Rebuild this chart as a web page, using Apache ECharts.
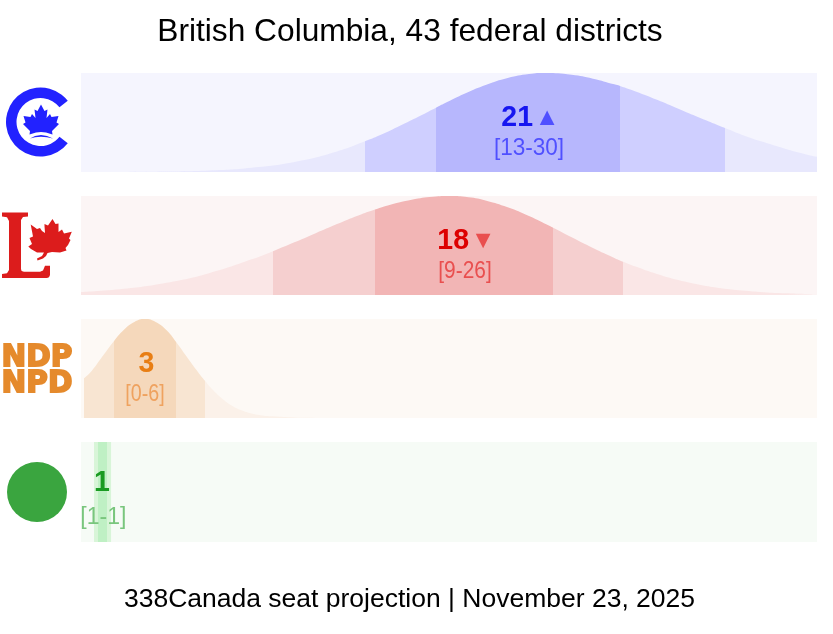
<!DOCTYPE html>
<html>
<head>
<meta charset="utf-8">
<style>html,body{margin:0;padding:0;background:#fff}#chart{width:833px;height:634px}</style>
<script src="https://cdn.jsdelivr.net/npm/echarts@6/dist/echarts.min.js"></script>
</head>
<body>
<div id="chart"></div>
<script>
// Seat projection values
const chartTitle = 'British Columbia, 43 federal districts';
const chartFooter = '338Canada seat projection | November 23, 2025';
const partyNames = ['CPC', 'LPC', 'NDP', 'GPC'];
const centralSeats = [21, 18, 3, 1];
const lowSeats = [13, 9, 0, 1];
const highSeats = [30, 26, 6, 1];
const trendMarks = ['▲', '▼', '', ''];

// Probability curves: seats and relative density (peak = 100)
const cpcSeats = [0, 2, 4, 6, 8, 10, 12, 13.31, 14, 15, 16, 16.64, 17, 18, 19, 20, 21, 21.75, 23, 24, 25, 25.27, 26, 27, 28, 29, 30, 30.19, 31, 32, 33, 34, 34.5];
const cpcDensity = [0, 0.1, 0.5, 1.6, 4.4, 10.2, 20.8, 31, 37, 47.2, 57.9, 65, 68.9, 79.3, 88.2, 95, 99, 100, 98.2, 94.3, 88.6, 86.9, 81.3, 72.9, 63.8, 54.7, 46, 44.4, 37.5, 30.2, 23.5, 17.8, 15.5];
const cpcBands = [0, 13.31, 16.64, 25.27, 30.19, 34.5];

const lpcSeats = [0, 2, 4, 6, 8, 9, 10, 11, 12, 13, 13.78, 14.5, 15.5, 16.5, 17.3, 18, 19, 20, 21, 22, 22.13, 23, 24, 25, 25.41, 26, 27, 28, 29, 30, 31, 32, 33, 34.5];
const lpcDensity = [2.9, 6.2, 12.3, 22, 36, 44.3, 53.2, 62.5, 71.7, 80.4, 86.4, 91.2, 96.2, 99.2, 100, 99.2, 95.3, 88.6, 79.8, 69.4, 68, 58.4, 47.6, 37.5, 33.7, 28.7, 21.2, 15.1, 10.4, 6.9, 4.5, 2.8, 1.7, 0.7];
const lpcBands = [0, 9, 13.78, 22.13, 25.41, 34.5];

const ndpSeats = [0.127, 0.5, 1, 1.55, 2, 2.5, 3, 3.5, 4, 4.45, 5, 5.5, 5.81, 6.2, 6.6, 7, 7.5, 8, 8.5, 9, 10, 11, 12, 34.5];
const ndpDensity = [40, 47.6, 62, 77.8, 88.8, 97, 100, 97, 88.8, 77, 60.6, 46, 37.7, 28, 20, 13.5, 8, 4.5, 2.6, 1.7, 0.5, 0.1, 0, 0];
const ndpBands = [0.127, 1.55, 4.45, 5.81, 34.5];

const gpcSeats = [0.61, 0.8, 1.22, 1.41];
const gpcDensity = [100, 100, 100, 100];
const gpcBands = [0.61, 0.8, 1.22, 1.41];

// Party styling
const panelColors = ['#f5f5fe', '#fcf5f5', '#fdf9f5', '#f6fbf6'];
const bandColors = [
  ['#e8e8fd', '#cfcfff', '#b7b7fd', '#cfcfff', '#e8e8fd'],
  ['#fae6e6', '#f5cfcf', '#f2b5b5', '#f5cfcf', '#fae6e6'],
  ['#f8e5d2', '#f5d8bb', '#f8e5d2', '#fbf1e9'],
  ['#d8f5d8', '#bff0c4', '#d8f5d8']
];
const valueColors = ['#1616f0', '#dd0000', '#e87e14', '#1a9b22'];
const rangeColors = ['#5050ff', '#e94f4f', '#efa25f', '#79c67d'];
const rangeScale = [0.94, 0.87, 0.82, 1];
const valueNudge = [4, 4, 1.5, -0.5];
const panelTops = [73, 196, 319, 442];
const seatMax = 34.5;

const curveSets = [
  [cpcSeats, cpcDensity, cpcBands],
  [lpcSeats, lpcDensity, lpcBands],
  [ndpSeats, ndpDensity, ndpBands],
  [gpcSeats, gpcDensity, gpcBands]
];

const grids = [], xAxes = [], yAxes = [], series = [], visualMaps = [];
const FONT = '"Liberation Sans", Arial, sans-serif';

curveSets.forEach(([seats, density, edges], p) => {
  grids.push({ left: 81, top: panelTops[p], width: 736, height: p === 3 ? 100 : 99, show: true, backgroundColor: panelColors[p], borderWidth: 0 });
  xAxes.push({ type: 'value', gridIndex: p, min: 0, max: seatMax, show: false });
  yAxes.push({ type: 'value', gridIndex: p, min: 0, max: 100, show: false });
  // The curve is one filled area; its confidence bands are coloured along the seat axis
  visualMaps.push({
    type: 'piecewise', show: false, seriesIndex: series.length, dimension: 0,
    pieces: bandColors[p].map((color, b) => ({ gte: edges[b], lt: edges[b + 1] + (b === bandColors[p].length - 1 ? 1 : 0), color }))
  });
  series.push({
    type: 'line', name: partyNames[p], xAxisIndex: p, yAxisIndex: p,
    data: seats.map((s, i) => [s, density[i]]),
    showSymbol: false, symbol: 'none', smooth: 0.5,
    lineStyle: { width: 0 }, areaStyle: { opacity: 1 },
    silent: true, animation: false, z: 2
  });
  // Central estimate, range and trend arrow, anchored on the central seat count
  series.push({
    type: 'custom', name: partyNames[p] + ' label', xAxisIndex: p, yAxisIndex: p,
    data: [[centralSeats[p], 50]], silent: true, animation: false, z: 5, clip: false,
    renderItem: (params, api) => {
      const c = api.coord([api.value(0), 50]);
      const top = panelTops[p];
      const hasMark = !!trendMarks[p];
      const vy = top + (p === 3 ? 41 : 45);
      const ry = top + 75.5;
      const children = [
        { type: 'text', x: c[0] + valueNudge[p], y: vy, scaleX: 0.95,
          style: { text: String(centralSeats[p]), fill: valueColors[p], font: 'bold 30px ' + FONT, align: hasMark ? 'right' : 'center', verticalAlign: 'middle' } },
        { type: 'text', x: c[0] + (p === 3 ? 1 : 0), y: ry, scaleX: rangeScale[p],
          style: { text: '[' + lowSeats[p] + '-' + highSeats[p] + ']', fill: rangeColors[p], font: (p === 3 ? 23 : 24) + 'px ' + FONT, align: 'center', verticalAlign: 'middle' } }
      ];
      if (hasMark) children.push({ type: 'text', x: c[0] + 18, y: vy, style: { text: trendMarks[p], fill: rangeColors[p], font: '25px ' + FONT, align: 'center', verticalAlign: 'middle' } });
      return { type: 'group', children };
    }
  });
});

// Party emblems drawn beside each panel
const leafBlue = [[41,104.5],[44.5,111],[47.5,109.5],[46.5,118],[50,114],[51.5,117],[58.5,116],[56.5,122.5],[59,124],[52,131],[52.5,134.5],[46,132.5],[41,132],[36,132.5],[29.5,134.5],[30,131],[23,124],[25.5,122.5],[23.5,116],[30.5,117],[32,114],[35.5,118],[34.5,109.5],[37.5,111]];
const arcBlue = [[30,138.5],[35,136],[41,135],[47,136],[53,138.5],[47,137.3],[41,136.7],[35,137.3]];
const letterL = [[2,212.5],[28,212.5],[28,216.5],[23,217],[21,220],[21,269],[21.6,271],[24,271.8],[40,271.8],[43,270.5],[45,265.8],[50,265.8],[50,275],[49,277.3],[47,278],[2,278],[2,274],[7,273.3],[9,270],[9,221],[7,217.2],[2,216.5]];
const leafRed = [[52.5,219],[55.5,224],[58.5,223.5],[58.5,232],[62,229.5],[64,233.5],[71.8,231.7],[69,238.5],[70.5,240],[68,245],[65.5,248],[66.5,250.5],[60,252.5],[52,252],[47.5,253],[46,256],[43,258.5],[37.5,260.5],[37,258.5],[42,256],[44,252.5],[37,252.5],[31,249],[28.3,246.5],[32,244],[29.5,238],[33,236.5],[30.7,224.5],[37,229],[40,228],[42,231],[45,233],[44.5,226],[44.5,224],[48,225.5]];

const graphic = [
  { type: 'sector', shape: { cx: 40.5, cy: 122, r0: 24, r: 34.5, startAngle: 0.66, endAngle: Math.PI * 2 - 0.66, clockwise: true }, style: { fill: '#2222ff' } },
  { type: 'polygon', shape: { points: leafBlue }, style: { fill: '#2222ff' } },
  { type: 'polygon', shape: { points: arcBlue }, style: { fill: '#2222ff' } },
  { type: 'polygon', shape: { points: letterL }, style: { fill: '#dc1c1c' } },
  { type: 'polygon', shape: { points: leafRed }, style: { fill: '#dc1c1c' } },
  { type: 'text', x: 37, y: 358, style: { text: 'NDP', fill: '#e58a2c', stroke: '#e58a2c', lineWidth: 1.8, font: 'bold 29.5px "DejaVu Sans"', align: 'center', verticalAlign: 'middle' } },
  { type: 'text', x: 37, y: 384, style: { text: 'NPD', fill: '#e58a2c', stroke: '#e58a2c', lineWidth: 1.8, font: 'bold 29.5px "DejaVu Sans"', align: 'center', verticalAlign: 'middle' } },
  { type: 'circle', shape: { cx: 37, cy: 492, r: 30 }, style: { fill: '#3aa53f' } }
];

const chart = echarts.init(document.getElementById('chart'), null, { renderer: 'canvas' });
chart.setOption({
  animation: false,
  backgroundColor: '#fff',
  title: [
    { text: chartTitle, left: 410, top: 16, padding: 0, textAlign: 'center', textStyle: { fontFamily: FONT, fontSize: 31.7, fontWeight: 'normal', color: '#000' } },
    { text: chartFooter, left: 409.5, top: 586, padding: 0, textAlign: 'center', textStyle: { fontFamily: FONT, fontSize: 26.5, fontWeight: 'normal', color: '#000' } }
  ],
  grid: grids, xAxis: xAxes, yAxis: yAxes, visualMap: visualMaps, series, graphic
});
</script>
</body>
</html>
